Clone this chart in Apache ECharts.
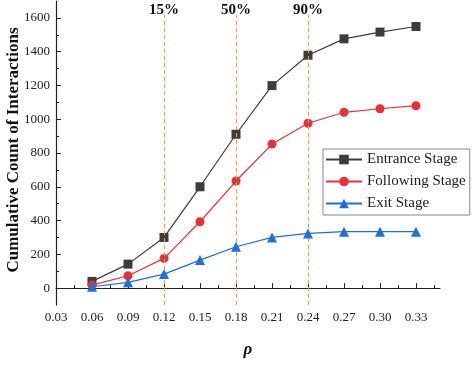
<!DOCTYPE html>
<html><head><meta charset="utf-8">
<script src="https://cdn.jsdelivr.net/npm/echarts@6/dist/echarts.min.js"></script>
<style>html,body{margin:0;padding:0;background:#fff}#c{width:474px;height:371px}</style>
</head><body><div id="c"></div>
<script>
const rho = [0.06, 0.09, 0.12, 0.15, 0.18, 0.21, 0.24, 0.27, 0.30, 0.33];
const entrance = [40, 142, 300, 600, 911, 1199, 1379, 1476, 1516, 1549];
const following = [18, 73, 176, 393, 634, 853, 976, 1041, 1062, 1080];
const exitStage = [8, 34, 83, 166, 245, 300, 324, 334, 334, 334];
const xTicks = [0.03, 0.06, 0.09, 0.12, 0.15, 0.18, 0.21, 0.24, 0.27, 0.30, 0.33];
const xMinor = [0.045, 0.075, 0.105, 0.135, 0.165, 0.195, 0.225, 0.255, 0.285, 0.315, 0.345];
const yTicks = [0, 200, 400, 600, 800, 1000, 1200, 1400, 1600];
const yMinor = [100, 300, 500, 700, 900, 1100, 1300, 1500];
const markers = [{x: 0.12, label: '15%'}, {x: 0.18, label: '50%'}, {x: 0.24, label: '90%'}];

const serif = '"Liberation Serif", "DejaVu Serif", serif';
const zip = (xs, ys) => xs.map((x, i) => [x, ys[i]]);
const chart = echarts.init(document.getElementById('c'));
const axisCommon = {min: 0.03, max: 0.35, type: 'value', splitLine: {show: false}};
chart.setOption({
  animation: false,
  grid: {left: 56, right: 34, top: 1, bottom: 66, containLabel: false},
  xAxis: [
    Object.assign({}, axisCommon, {
      interval: 0.03,
      axisLine: {show: true, lineStyle: {color: '#222', width: 1.2}},
      axisTick: {show: true, inside: true, length: 5, customValues: xTicks, lineStyle: {color: '#222'}},
      axisLabel: {customValues: xTicks, formatter: v => v.toFixed(2), fontFamily: serif, fontSize: 13, color: '#222', margin: 6},
      name: 'ρ', nameLocation: 'middle', nameGap: 36,
      nameTextStyle: {fontFamily: serif, fontSize: 17, fontWeight: 'bold', fontStyle: 'italic', color: '#111'}
    }),
    Object.assign({}, axisCommon, {
      position: 'bottom', interval: 0.03,
      axisLine: {show: false},
      axisTick: {show: true, inside: true, length: 3, customValues: xMinor, lineStyle: {color: '#222'}},
      axisLabel: {show: false}
    })
  ],
  yAxis: [
    {
      type: 'value', min: -100, max: 1700, interval: 100, splitLine: {show: false},
      axisLine: {show: true, lineStyle: {color: '#222', width: 1.2}},
      axisTick: {show: true, inside: true, length: 5, customValues: yTicks, lineStyle: {color: '#222'}},
      axisLabel: {customValues: yTicks, formatter: v => String(v), fontFamily: serif, fontSize: 13, color: '#222', margin: 6}
    },
    {
      type: 'value', min: -100, max: 1700, interval: 100, position: 'left', splitLine: {show: false},
      axisLine: {show: false},
      axisTick: {show: true, inside: true, length: 3, customValues: yMinor, lineStyle: {color: '#222'}},
      axisLabel: {show: false}
    }
  ],
  legend: {
    left: 323, top: 149, orient: 'vertical',
    width: 143,
    padding: [3, 4, 4, 2],
    itemWidth: 36, itemHeight: 12, itemGap: 7,
    borderColor: '#888', borderWidth: 1, backgroundColor: '#fff',
    textStyle: {fontFamily: serif, fontSize: 15, color: '#222'},
    data: ['Entrance Stage', 'Following Stage', 'Exit Stage']
  },
  graphic: [{
    type: 'text', x: 14, y: 150, rotation: Math.PI / 2,
    style: {text: 'Cumulative Count of Interactions', font: 'bold 17px ' + serif, fill: '#111', textAlign: 'center', textVerticalAlign: 'middle'}
  }],
  series: [
    {
      name: 'Entrance Stage', type: 'line', data: zip(rho, entrance),
      symbol: 'rect', symbolSize: 9, color: '#3d3d3d',
      lineStyle: {width: 1.2, color: '#3d3d3d'}, itemStyle: {color: '#3d3d3d'},
      z: 3,
      markLine: {
        silent: true, symbol: 'none',
        lineStyle: {type: [4, 3], color: '#e0a070', width: 1},
        label: {show: true, position: 'end', distance: -3, fontFamily: serif, fontSize: 15, fontWeight: 'bold', color: '#111'},
        data: markers.map(m => [{coord: [m.x, -100], label: {formatter: m.label}}, {coord: [m.x, 1618]}])
      }
    },
    {
      name: 'Following Stage', type: 'line', data: zip(rho, following),
      symbol: 'circle', symbolSize: 9, color: '#e8303a',
      lineStyle: {width: 1.2, color: '#e8303a'}, itemStyle: {color: '#e8303a'}, z: 4
    },
    {
      name: 'Exit Stage', type: 'line', data: zip(rho, exitStage),
      symbol: 'triangle', symbolSize: 10, color: '#1f6fdc',
      lineStyle: {width: 1.2, color: '#1f6fdc'}, itemStyle: {color: '#1f6fdc'}, z: 5
    }
  ]
});
</script></body></html>
